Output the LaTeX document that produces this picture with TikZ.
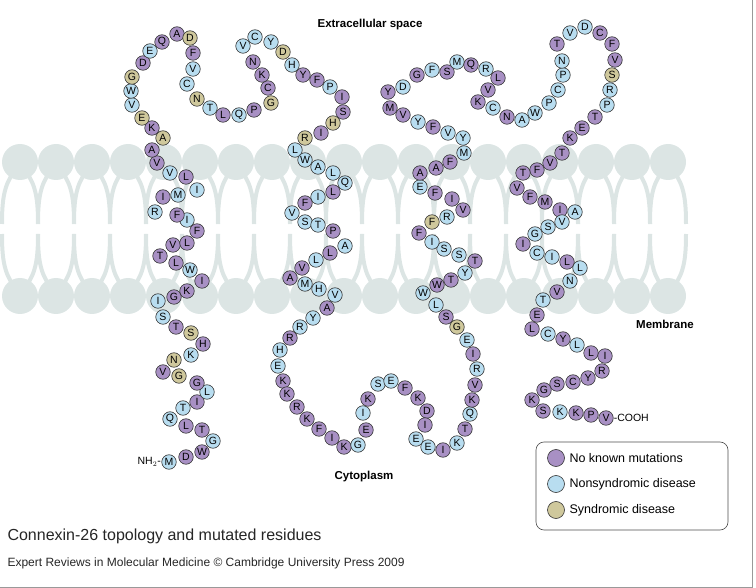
\documentclass[tikz,border=0pt]{standalone}
\usepackage{fontspec}
\setmainfont{Liberation Sans}
\definecolor{cP}{HTML}{A890C4}
\definecolor{cB}{HTML}{B8DDF0}
\definecolor{cY}{HTML}{CFC89C}
\definecolor{mem}{HTML}{DCE5E4}
\begin{document}
\begin{tikzpicture}[x=1pt,y=-1pt,
  res/.style={circle,draw=black!80,line width=0.6pt,minimum size=14.5pt,inner sep=0pt,font=\fontsize{10.5}{10.5}\selectfont},
  P/.style={res,fill=cP}, B/.style={res,fill=cB}, Y/.style={res,fill=cY},
  head/.style={circle,fill=mem,minimum size=36pt,inner sep=0pt},
  tail/.style={draw=mem,line width=4pt},
  lbl/.style={font=\bfseries\fontsize{11.5}{13}\selectfont}]
\useasboundingbox (0,0) rectangle (756,588);
\draw[black!40,line width=0.7pt] (752,0) -- (752,587) -- (0,587);
% membrane
\foreach \i in {0,...,18}{
  \pgfmathsetmacro{\hx}{20+36*\i}
  \draw[tail] (\hx-6,172) .. controls (\hx-16,185) and (\hx-18,200) .. (\hx-18,224);
  \draw[tail] (\hx+6,172) .. controls (\hx+16,185) and (\hx+18,200) .. (\hx+18,224);
  \draw[tail] (\hx-6,286) .. controls (\hx-16,273) and (\hx-18,258) .. (\hx-18,234);
  \draw[tail] (\hx+6,286) .. controls (\hx+16,273) and (\hx+18,258) .. (\hx+18,234);
  \node[head] (ht\i) at (\hx,162) {};
  \node[head] (hb\i) at (\hx,296) {};
}
% residues
\foreach \x/\y/\l/\c [count=\n] in {
169/462/M/B,186/457/D/P,202/452/W/P,213/441/G/B,202/430/T/P,186/426/L/P,170/419/Q/B,183/408/T/B,197/402/I/P,207/392/L/B,
197/383/G/P,179/376/G/Y,163/372/V/P,174/360/N/Y,191/355/K/B,203/344/H/P,191/333/S/Y,176/327/T/P,163/317/S/B,158/301/I/B,
174/297/G/P,187/291/K/P,202/281/I/P,190/270/W/B,176/263/L/P,160/256/T/P,173/245/V/P,187/243/L/P,197/231/F/P,187/220/I/B,
177/215/F/P,155/212/R/B,163/197/I/P,178/195/M/B,197/190/I/B,186/177/L/P,170/173/V/B,157/163/V/P,152/150/A/P,163/138/A/Y,
152/128/K/P,142/118/E/Y,132/105/V/B,131/91/W/B,132/77/G/Y,143/63/D/P,150/51/E/B,162/42/Q/P,177/34/A/P,190/38/D/Y,
193/53/F/P,193/69/V/B,187/84/C/B,197/99/N/Y,210/108/T/B,223/115/L/P,239/115/Q/B,254/110/P/P,271/103/G/Y,268/88/C/P,
262/75/K/P,253/62/N/P,243/46/V/B,255/37/C/B,271/42/Y/B,283/52/D/Y,292/65/H/B,303/75/Y/P,317/80/F/P,330/87/P/B,
342/97/I/P,343/112/S/P,333/123/H/Y,321/133/I/P,305/138/R/Y,295/150/L/B,305/160/W/B,318/167/A/B,333/173/L/B,345/183/Q/B,
333/192/L/P,318/197/I/B,305/203/F/P,292/213/V/B,305/222/S/B,318/225/T/B,333/231/P/P,345/246/A/B,330/253/L/P,316/260/L/B,
302/268/V/P,290/278/A/P,305/284/M/B,319/289/H/B,335/295/V/B,327/308/A/P,313/318/Y/B,300/327/R/B,290/338/R/P,280/350/H/B,
278/366/E/B,283/381/K/P,287/394/K/P,297/407/R/P,307/419/K/P,319/429/F/P,332/438/I/P,344/447/K/P,358/445/G/B,366/430/E/P,
363/413/I/B,368/399/K/P,378/384/S/B,391/381/E/B,405/388/F/P,418/398/K/P,427/411/D/P,425/425/I/P,416/439/E/B,428/447/E/B,
443/450/I/P,457/443/K/B,465/429/T/P,470/414/Q/B,472/400/K/P,475/385/V/P,477/369/R/B,473/354/I/P,467/340/E/B,457/327/G/Y,
446/317/S/P,436/305/L/B,423/293/W/B,437/285/W/P,451/280/T/P,465/273/Y/B,475/261/T/P,459/255/S/B,444/249/S/B,432/242/I/B,
419/233/F/P,432/222/F/Y,447/217/R/B,463/210/V/P,452/199/I/P,435/193/F/P,420/187/E/B,420/173/A/P,436/168/A/P,450/162/F/P,
464/153/M/B,463/138/Y/B,448/133/V/B,433/127/F/P,418/122/Y/B,403/115/V/P,390/108/M/P,388/92/Y/P,403/87/D/B,417/75/G/P,
432/70/F/B,447/72/S/P,457/62/M/B,471/65/Q/P,486/69/R/B,498/78/L/P,488/90/V/P,478/102/K/P,493/108/C/B,507/117/N/P,
522/120/A/B,535/113/W/B,549/103/P/B,558/90/C/B,563/75/P/B,562/61/N/B,557/44/T/P,570/33/V/B,585/27/D/B,600/33/C/P,
612/44/F/P,615/60/V/P,612/75/S/Y,610/90/R/B,607/105/P/B,595/117/T/P,582/128/E/P,570/138/K/P,562/153/T/P,550/163/V/P,
537/170/F/P,523/173/T/P,517/188/V/P,530/197/F/P,545/202/M/P,560/210/I/P,575/212/A/B,562/222/V/B,548/227/S/B,535/234/G/B,
523/244/I/P,537/253/C/B,552/257/I/B,567/262/L/P,580/268/L/B,570/281/N/B,557/292/V/P,543/300/T/B,537/315/E/P,532/329/L/P,
548/334/C/B,563/339/Y/P,577/345/L/B,591/353/L/P,605/356/I/P,602/371/R/P,588/378/Y/P,573/382/C/P,557/384/S/P,544/390/G/P,
532/400/K/P,543/411/S/P,560/412/K/B,576/413/K/P,591/415/P/P,606/418/V/P}
  \node[\c] (r\n) at (\x,\y) {\l};
\node[anchor=east,font=\fontsize{10.5}{11}\selectfont,inner sep=0pt] (nh) at ([xshift=-0.5pt]r1.west) {NH$_2$-};
\node[anchor=west,font=\fontsize{10.5}{11}\selectfont,inner sep=0pt] (co) at (r226.east) {-COOH};
\node[lbl] (ext) at (370,25) {Extracellular space};
\node[lbl] (cyt) at (364,477) {Cytoplasm};
\node[lbl] (mb) at (665,324) {Membrane};
% legend
\draw[black!70,line width=0.6pt,rounded corners=8pt] (536,442) rectangle (728,530);
\node[P,minimum size=17pt] (l1) at (556,458) {};
\node[B,minimum size=17pt] (l2) at (556,484) {};
\node[Y,minimum size=17pt] (l3) at (556,510) {};
\node[anchor=west,font=\fontsize{12.5}{14}\selectfont] at (566,458) {No known mutations};
\node[anchor=west,font=\fontsize{12.5}{14}\selectfont] at (566,484) {Nonsyndromic disease};
\node[anchor=west,font=\fontsize{12.5}{14}\selectfont] at (566,510) {Syndromic disease};
\node[anchor=west,font=\fontsize{16}{18}\selectfont,text=black!85] (t1) at (4,536) {Connexin-26 topology and mutated residues};
\node[anchor=west,font=\fontsize{12}{14}\selectfont,text=black!85] (t2) at (4,563) {Expert Reviews in Molecular Medicine \textcopyright{} Cambridge University Press 2009};
\end{tikzpicture}
\end{document}
